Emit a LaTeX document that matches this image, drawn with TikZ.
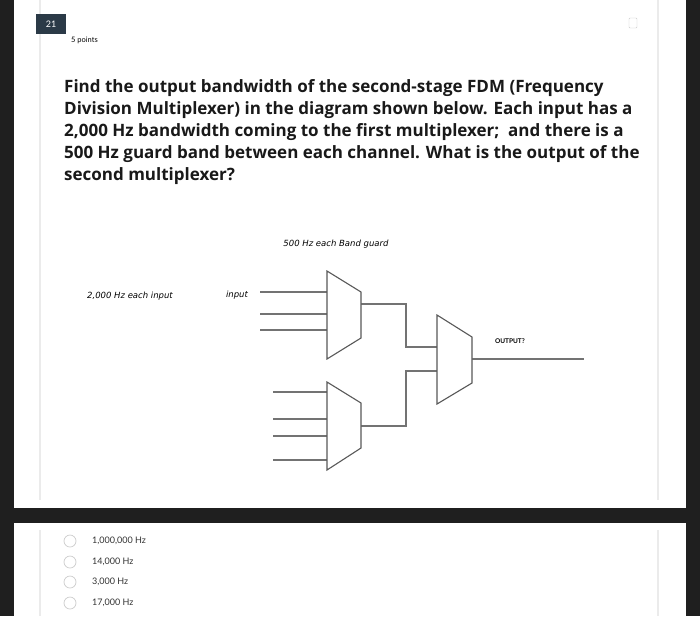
\documentclass[tikz,border=0pt]{standalone}
\usepackage{fontspec}
\setmainfont{Lato}
\newfontfamily\hand{DejaVu Sans}
\newfontfamily\qfont{Open Sans}
\definecolor{badgec}{HTML}{2B3A47}
\begin{document}
\begin{tikzpicture}[x=1pt,y=-1pt,
  wire/.style={draw=black!55,line width=1.6pt},
  mux/.style={draw=black!65,line width=1.1pt,fill=white},
  hw/.style={font=\hand\itshape\fontsize{8.5}{9}\selectfont,inner sep=0pt},
  opt/.style={circle,draw=black!20,line width=0.7pt,minimum size=12pt,inner sep=0pt},
  opttext/.style={anchor=west,font=\fontsize{9}{10}\selectfont,text=black!80,inner sep=0pt}]
\useasboundingbox (0,0) rectangle (700,616);
\fill[black!88] (0,0) rectangle (700,616);
\fill[white] (14,0) rectangle (686,508);
\fill[white] (14,523) rectangle (686,616);
\draw[black!8,line width=1.5pt] (40,0) -- (40,500) (658,0) -- (658,500);
\draw[black!8,line width=1.5pt] (40,530) -- (40,616) (658,530) -- (658,616);
\node[fill=badgec,text=white,minimum width=30pt,minimum height=20pt,inner sep=0pt,font=\fontsize{9}{10}\selectfont] (badge) at (51,24) {21};
\node[anchor=west,inner sep=0pt,font=\fontsize{7.5}{8}\selectfont] (pts) at (71,40) {5 points};
\node[draw=black!20,rounded corners=1pt,minimum width=8pt,minimum height=10pt,inner sep=0pt] (icon) at (633,23) {};
\node[anchor=north west,inner sep=0pt,align=left,font=\qfont\bfseries\fontsize{17}{22}\selectfont,text=black!90] (q) at (64,79)
{Find the output bandwidth of the second-stage FDM (Frequency\\ Division Multiplexer) in the diagram shown below. Each input has a\\ 2,000 Hz bandwidth coming to the first multiplexer;\ \ and there is a\\ 500 Hz guard band between each channel. What is the output of the\\ second multiplexer?};
% labels
\node[hw] (lg) at (336,244) {500 Hz each Band guard};
\node[hw] (li) at (130,296) {2,000 Hz each input};
\node[hw] (lin) at (237,295) {input};
\node[font=\bfseries\fontsize{6.5}{7}\selectfont,inner sep=0pt] (lo) at (510,341) {OUTPUT?};
% coordinates
\coordinate (a1) at (260,292); \coordinate (a2) at (260,314); \coordinate (a3) at (260,330);
\coordinate (b1) at (273,392); \coordinate (b2) at (273,419); \coordinate (b3) at (273,436); \coordinate (b4) at (273,460);
\coordinate (o1) at (361,304); \coordinate (o3) at (361,426);
\coordinate (i1) at (437,347); \coordinate (i2) at (437,371);
\coordinate (o2) at (472,359); \coordinate (out) at (584,359);
% wires
\draw[wire] (a1) -- (327,292) (a2) -- (327,314) (a3) -- (327,330);
\draw[wire] (b1) -- (327,392) (b2) -- (327,419) (b3) -- (327,436) (b4) -- (327,460);
\draw[wire] (o1) -- (406,304) -- (406,347) -- (i1);
\draw[wire] (o3) -- (406,426) -- (406,371) -- (i2);
\draw[wire] (o2) -- (out);
% muxes
\draw[mux] (327,271) -- (361,292) -- (361,338) -- (327,359) -- cycle;
\draw[mux] (327,382) -- (361,403) -- (361,448) -- (327,470) -- cycle;
\draw[mux] (437,315) -- (472,337) -- (472,383) -- (437,404) -- cycle;
% options
\foreach \y/\t [count=\i] in {541/{1,000,000 Hz},562/{14,000 Hz},582/{3,000 Hz},603/{17,000 Hz}}{
  \node[opt] (c\i) at (70,\y) {};
  \node[opttext] (t\i) at (92,\y) {\t};
}
\end{tikzpicture}
\end{document}
